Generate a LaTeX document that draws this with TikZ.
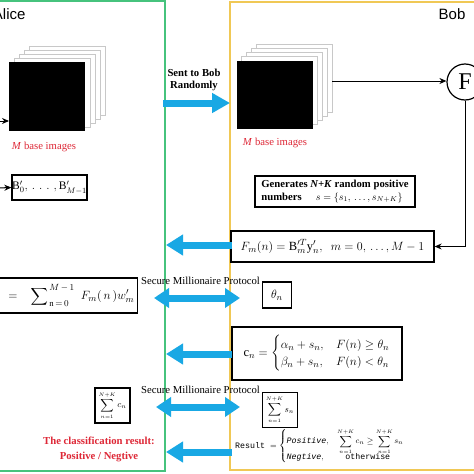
\documentclass[tikz,border=0pt]{standalone}
\usepackage{amsmath}
\usepackage{fontspec}
\setmainfont{Liberation Serif}
\newfontfamily\sansA{Liberation Sans}
\newfontfamily\monoA{Liberation Mono}
\usetikzlibrary{arrows.meta}
\definecolor{ablue}{RGB}{25,168,228}
\definecolor{agreen}{RGB}{70,195,125}
\definecolor{ayellow}{RGB}{240,200,85}
\definecolor{ared}{RGB}{222,40,55}
\definecolor{aframe}{RGB}{200,200,200}
\newcommand\fsz[2]{\fontsize{#1}{#2}\selectfont}
\newcommand\bigsumlim[2]{\displaystyle\sum\limits_{\scriptscriptstyle #1}^{\scriptscriptstyle #2}}
\begin{document}
\begin{tikzpicture}[x=1pt,y=-1pt,
  bigarrow/.style={ablue, line width=7pt, -{Triangle[length=18pt,width=19pt]}},
  leftarrow/.style={ablue, line width=7pt, -{Triangle[length=17pt,width=20pt]}},
  dblarrow/.style={ablue, line width=7pt, {Triangle[length=15pt,width=19pt]}-{Triangle[length=15pt,width=19pt]}},
  arr/.style={-{Stealth[length=7pt,width=6pt]}, line width=1pt},
  box/.style={draw, line width=1.3pt, inner sep=0pt},
  frame/.style={draw=aframe, fill=white, line width=0.8pt},
  redlabel/.style={ared, font=\fsz{10.7}{12}},
  smp/.style={font=\fsz{10.7}{12}},
]
\useasboundingbox (0,0) rectangle (474,474);
\fill[white] (0,0) rectangle (474,474);

% panels
\draw[agreen, line width=1.6pt] (-5,0.8) rectangle (165,470.8);
\draw[ayellow, line width=2pt] (230,2) rectangle (480,470);

\node[anchor=east, font=\sansA\fsz{15}{15}] (alice) at (29,14) {Alice};
\node[font=\sansA\fsz{15}{15}] (bob) at (452,14) {Bob};

% Alice images
\foreach \i in {4,3,2,1}
  \draw[frame] (9+5*\i, 62-4*\i) rectangle ++(76,69);
\node[fill=black, minimum width=76pt, minimum height=69pt, inner sep=0pt, anchor=north west] (aimg) at (9,62) {};
\coordinate (ain) at (-2,121);
\draw[arr] (ain) -- (ain -| aimg.west);
\node[redlabel] (alab) at (44,147) {\textit{M} base images};

% B box
\node[box, minimum width=75pt, minimum height=25pt, font=\fsz{11.5}{12}] (bbox) at (49.5,187.5) {$\mathrm{B}_{0}^{\prime}, \,.\,\,.\,\,.\,\,, \mathrm{B}_{M-1}^{\prime}$};
\coordinate (bin) at (-2,188);
\draw[arr] (bin) -- (bbox.west);

% Sent to Bob
\coordinate (s1) at (163,103);
\coordinate (s2) at (230,103);
\draw[bigarrow] (s1) -- (s2);
\node[font=\bfseries\fsz{10.7}{12.5}, align=center] (sent) at (194,80) {Sent to Bob\\Randomly};

% Bob images
\foreach \i in {4,3,2,1}
  \draw[frame] (237+4.75*\i, 61-4.25*\i) rectangle ++(76,68);
\node[fill=black, minimum width=76pt, minimum height=68pt, inner sep=0pt, anchor=north west] (bimg) at (237,61) {};
\node[redlabel] (blab) at (275,143) {\textit{M} base images};

\node[circle, draw, line width=1.2pt, minimum size=36pt, inner sep=0pt, font=\fsz{24}{24}] (F) at (465,82) {F};
\coordinate (bstart) at (332,81);
\draw[arr] (bstart) -- (F.west |- bstart);

% Generates box
\node[box, minimum width=160pt, minimum height=31pt, align=left, font=\fsz{10.7}{12.5}] (gen) at (335,191.5)
  {\textbf{Generates \textit{N+K} random positive}\\\textbf{numbers}\hspace{14pt}{\fsz{10}{12}$s=\{s_{1}, \,.\,.\,.\,, s_{N+K}\}$}};

% F_m box
\node[box, minimum width=203pt, minimum height=31pt, font=\fsz{12.5}{14}] (fm) at (332.5,246.5)
  {$F_{m}(n) = \mathrm{B}_{m}^{\prime T}\mathrm{y}_{n}^{\prime},\ \ m = 0, \,.\,.\,.\,, M-1$};
\draw[arr] (F.south) |- (fm.east);

\coordinate (l1a) at (232,245);
\coordinate (l1b) at (166,245);
\draw[leftarrow] (l1a) -- (l1b);

% Alice sum box
\node[box, minimum height=35pt, inner xsep=3pt, text width=137pt, align=right, anchor=east, font=\fsz{12.5}{14}] (sum) at (138,295.5)
  {$=\ \ \displaystyle\sum\nolimits_{\,\mathrm{n}\,=\,0}^{\,M\,-\,1}\ F_{m}(\,n\,)w_{m}^{\prime}$};

\node[smp] (smp1) at (200.5,281) {Secure Millionaire Protocol};
\coordinate (d1a) at (154,298);
\coordinate (d1b) at (240,298);
\draw[dblarrow] (d1a) -- (d1b);

\node[box, minimum width=29pt, minimum height=26pt, font=\fsz{13}{14}] (theta) at (277,295) {$\theta_{n}$};

% c_n box
\node[box, minimum width=170pt, minimum height=53pt, font=\fsz{12.5}{14}] (cn) at (317,353.5)
  {$\mathrm{c}_{n} = \begin{cases}\alpha_{n} + s_{n}, & F(n) \ge \theta_{n}\\ \beta_{n} + s_{n}, & F(n) < \theta_{n}\end{cases}$};
\coordinate (l2a) at (232,354);
\coordinate (l2b) at (166,354);
\draw[leftarrow] (l2a) -- (l2b);

% second SMP
\node[box, minimum width=35pt, minimum height=35pt, font=\fsz{9}{10}] (sc) at (112.5,405.5) {$\bigsumlim{n=1}{N+K} c_{n}$};
\node[box, minimum width=35pt, minimum height=35pt, font=\fsz{9}{10}] (ss) at (280,410) {$\bigsumlim{n=1}{N+K} s_{n}$};
\node[smp] (smp2) at (200.5,390) {Secure Millionaire Protocol};
\coordinate (d2a) at (156,407);
\coordinate (d2b) at (240,407);
\draw[dblarrow] (d2a) -- (d2b);

% Result
\node[anchor=west, inner sep=0pt, font=\fsz{8.3}{9}] (res) at (235,446)
  {\monoA Result $=\begin{cases}\textit{Positive}, & \bigsumlim{n=1}{N+K} c_{n} \ge \bigsumlim{n=1}{N+K} s_{n}\\[-2pt] \textit{Negtive}, & \quad\text{otherwise}\end{cases}$};
\coordinate (l3a) at (232,452);
\coordinate (l3b) at (166,452);
\draw[leftarrow] (l3a) -- (l3b);

\node[ared, font=\bfseries\fsz{10.7}{14.5}, align=center] (cls) at (99,449.5) {The classification result:\\Positive / Negtive};
\end{tikzpicture}
\end{document}
